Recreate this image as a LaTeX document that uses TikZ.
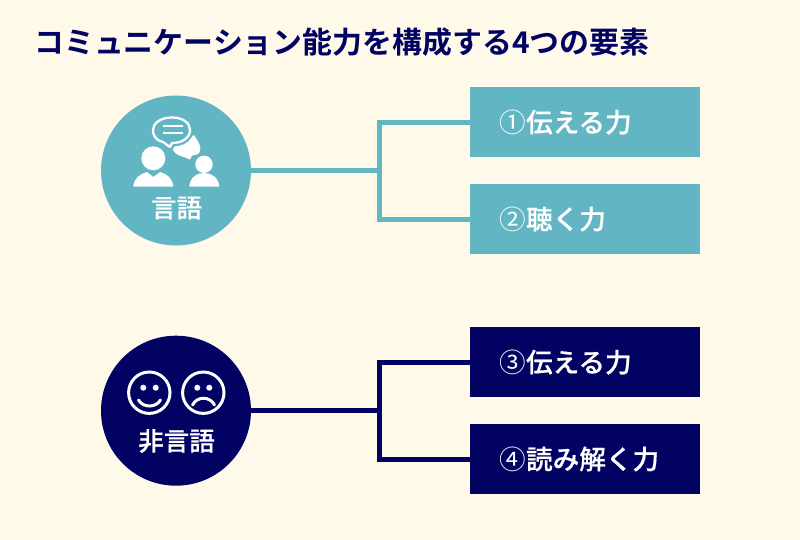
\documentclass[tikz,border=0pt]{standalone}
\usepackage{fontspec}
\setmainfont{Noto Sans CJK JP Medium}[FakeBold=0.5]
\newfontfamily\titlefont{Noto Sans CJK JP Bold}
\newfontfamily\digitfont{Noto Sans CJK JP}
\definecolor{cream}{HTML}{FFF9EA}
\definecolor{tealc}{HTML}{62B6C3}
\definecolor{navyc}{HTML}{020263}
\newcommand{\skilltext}[2]{\hspace*{.8pt}\raisebox{-.7pt}{{\digitfont #1}#2}}
\tikzset{
  roundnode/.style={circle,fill=#1,minimum size=150pt,inner sep=0pt},
  skillbox/.style={fill=#1,text=white,font=\fontsize{26.6}{27}\selectfont,anchor=west,
    minimum height=70pt,text width=172.5pt,inner xsep=29pt,align=left},
  circlabel/.style={text=white,font=\fontsize{25.5}{26}\selectfont,inner sep=0pt},
  branch/.style={draw=#1,line width=5pt},
  facel/.style={draw=white,line width=3pt,line cap=round},
  bubbleline/.style={white,line width=2.3pt}
}
\begin{document}
\begin{tikzpicture}[x=1pt,y=-1pt]
\useasboundingbox (0,0) rectangle (800,540);
\fill[cream] (0,0) rectangle (800,540);
\node[anchor=west,inner sep=0pt,text=navyc,font=\fontsize{29.9}{30}\titlefont] (title) at (34,42) {コミュニケーション能力を構成する4つの要素};
% circles
\node[roundnode=tealc] (verbal) at (176,170.5) {};
\node[roundnode=navyc] (nonverbal) at (176,410.7) {};
% boxes
\node[skillbox=tealc] (tellA) at (469.5,122.2) {\skilltext{①}{伝える力}};
\node[skillbox=tealc] (listen) at (469.5,219) {\skilltext{②}{聴く力}};
\node[skillbox=navyc] (tellB) at (469.5,362.2) {\skilltext{③}{伝える力}};
\node[skillbox=navyc] (read) at (469.5,459) {\skilltext{④}{読み解く力}};
% branches
\coordinate (joinA) at (379,170.5);
\coordinate (joinB) at (379,410.7);
\draw[branch=tealc] (verbal.east) -- (joinA);
\draw[branch=tealc] (tellA.west) -| (joinA) |- (listen.west);
\draw[branch=navyc] (nonverbal.east) -- (joinB);
\draw[branch=navyc] (tellB.west) -| (joinB) |- (read.west);
% people and bubbles
\fill[white] (194,135) .. controls (197,140) and (202,146) .. (200,151)
  .. controls (199,155) and (195,155) .. (192,155.5) -- (190,159.5) -- (184,157)
  .. controls (178,156) and (172,152) .. (172,146) -- cycle;
\draw[tealc,line width=7pt,fill=tealc,line join=round] (163,142) .. controls (155,140) and (153,135) .. (153,130)
  .. controls (153,123) and (161,117.5) .. (172,117.5)
  .. controls (183,117.5) and (190,123) .. (190,130)
  .. controls (190,138) and (182,143) .. (172,143) -- (170,147) -- cycle;
\draw[bubbleline,line join=round] (163,142) .. controls (155,140) and (153,135) .. (153,130)
  .. controls (153,123) and (161,117.5) .. (172,117.5)
  .. controls (183,117.5) and (190,123) .. (190,130)
  .. controls (190,138) and (182,143) .. (172,143) -- (170,147) -- cycle;
\draw[bubbleline] (163,126) -- (183,126) (163,133) -- (183,133);
\fill[white] (153.3,158.3) circle (12);
\fill[white] (133.3,186.7) .. controls (134,178) and (140,174) .. (147,172) -- (153.3,177) -- (160,172)
  .. controls (167,174) and (172.5,178) .. (173.3,186.7) -- cycle;
\fill[white] (204,164.3) circle (8.7);
\fill[white] (189.3,186.7) .. controls (190,177) and (197,173) .. (204,173)
  .. controls (211,173) and (218.5,177) .. (219.3,186.7) -- cycle;
\node[circlabel] (verballabel) at (176.5,208) {言語};
% faces
\draw[facel] (149.3,392.7) circle (20.7);
\fill[white] (143.3,387.7) circle (3) (155.7,387.7) circle (3);
\draw[facel] (138.5,400) .. controls (143,408) and (156,408) .. (160.5,400);
\draw[facel] (203.3,392.7) circle (20.7);
\fill[white] (197.3,387.7) circle (3) (209.3,387.7) circle (3);
\draw[facel] (192.5,405) .. controls (197,396) and (210,396) .. (214.5,405);
\node[circlabel] (nonverballabel) at (176.5,441) {非言語};
\end{tikzpicture}
\end{document}
